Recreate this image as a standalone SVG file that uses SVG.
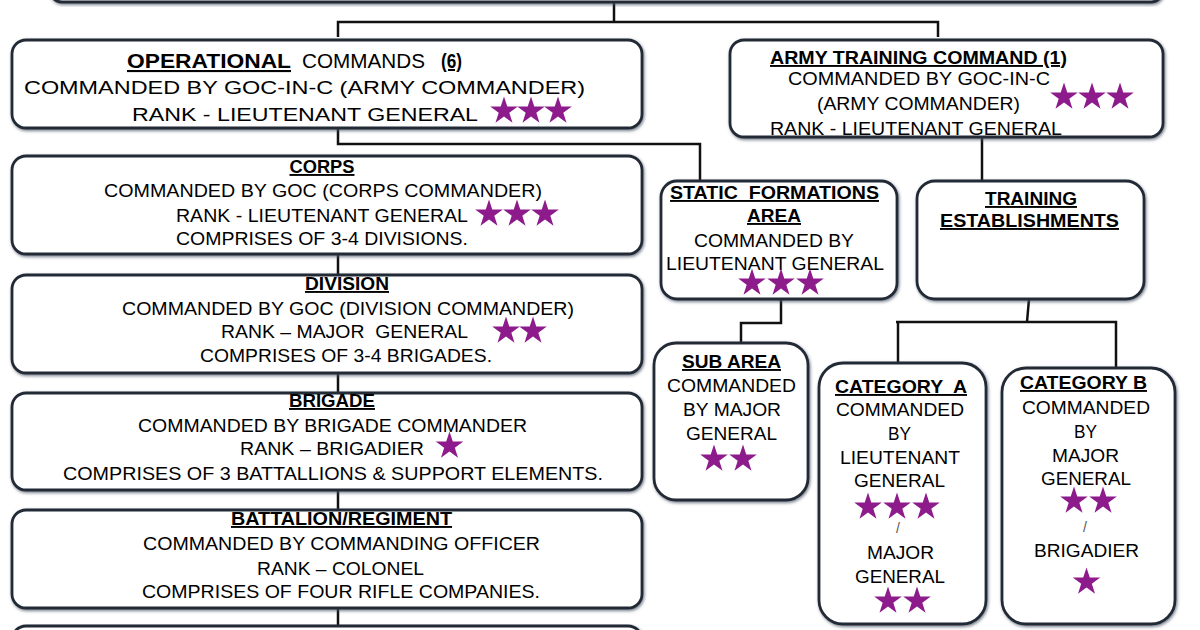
<svg xmlns="http://www.w3.org/2000/svg" xmlns:xlink="http://www.w3.org/1999/xlink" width="1200" height="630" viewBox="0 0 1200 630">
<style>
.box{fill:#fff;stroke:#232a36;stroke-width:2.8;filter:url(#sh)}
.t{font-family:"Liberation Sans",Arial,sans-serif;fill:#000;text-anchor:middle;font-size:19px}
.s{text-anchor:start}
.h{font-weight:bold;text-decoration:underline}
.sl{font-size:14px;fill:#555}
.conn path{stroke:#111;stroke-width:2.5;fill:none}
.star{fill:#8e1b8c}
</style>
<defs>
<filter id="sh" x="-5%" y="-5%" width="112%" height="115%">
<feDropShadow dx="1" dy="1.5" stdDeviation="1.6" flood-color="#4a5566" flood-opacity="0.75"/>
</filter>
<path id="st" d="M0,-14.5 L3.28,-4.52 L13.79,-4.48 L5.31,1.73 L8.52,11.73 L0,5.6 L-8.52,11.73 L-5.31,1.73 L-13.79,-4.48 L-3.28,-4.52 Z"/>
</defs>

<g class="conn">
<path d="M614,0 V22"/>
<path d="M338,37 V22 H938 V37"/>
<path d="M338,128 V144 H700 V181"/>
<path d="M982,137 V181"/>
<path d="M338,254 V275"/>
<path d="M338,373 V393"/>
<path d="M338,490 V510"/>
<path d="M338,608 V626"/>
<path d="M781,299 V323 H741 V343"/>
<path d="M1029,299 L1027,322"/>
<path d="M896,322 H1116 V368"/>
<path d="M898,322 V363"/>
</g>

<g id="top-node"><rect class="box" x="50" y="-40" width="1113" height="42" rx="12"/></g>

<g id="operational">
<rect class="box" x="12" y="40" width="630" height="88" rx="14"/>
<text class="t s" y="68"><tspan class="h" x="127" font-size="21" textLength="164" lengthAdjust="spacingAndGlyphs">OPERATIONAL</tspan><tspan x="302" font-size="20" textLength="123" lengthAdjust="spacingAndGlyphs">COMMANDS</tspan><tspan class="h" x="441" font-size="20" textLength="21" lengthAdjust="spacingAndGlyphs">(6)</tspan></text>
<text class="t" x="304.5" y="94" font-size="21" textLength="561" lengthAdjust="spacingAndGlyphs">COMMANDED BY GOC-IN-C (ARMY COMMANDER)</text>
<text class="t" x="305" y="121" font-size="20" textLength="346" lengthAdjust="spacingAndGlyphs">RANK - LIEUTENANT GENERAL</text>
<use class="star" href="#st" x="504" y="111"/><use class="star" href="#st" x="531" y="111"/><use class="star" href="#st" x="558" y="111"/>
</g>

<g id="army-training">
<rect class="box" x="730" y="40" width="433" height="97" rx="14"/>
<text class="t h" x="918.5" y="64" font-size="17" textLength="297" lengthAdjust="spacingAndGlyphs">ARMY TRAINING COMMAND (1)</text>
<text class="t" x="919" y="85" font-size="17.5" textLength="262" lengthAdjust="spacingAndGlyphs">COMMANDED BY GOC-IN-C</text>
<text class="t" x="918.5" y="110" font-size="17.5" textLength="203" lengthAdjust="spacingAndGlyphs">(ARMY COMMANDER)</text>
<text class="t" x="916" y="135" font-size="17.5" textLength="292" lengthAdjust="spacingAndGlyphs">RANK - LIEUTENANT GENERAL</text>
<use class="star" href="#st" x="1064" y="97"/><use class="star" href="#st" x="1092" y="97"/><use class="star" href="#st" x="1120" y="97"/>
</g>

<g id="corps">
<rect class="box" x="12" y="156" width="630" height="98" rx="14"/>
<text class="t h" x="322" y="173" font-size="16" textLength="65" lengthAdjust="spacingAndGlyphs">CORPS</text>
<text class="t" x="323" y="197" textLength="438" lengthAdjust="spacingAndGlyphs">COMMANDED BY GOC (CORPS COMMANDER)</text>
<text class="t" x="322" y="222" textLength="292" lengthAdjust="spacingAndGlyphs">RANK - LIEUTENANT GENERAL</text>
<text class="t" x="322" y="245" textLength="292" lengthAdjust="spacingAndGlyphs">COMPRISES OF 3-4 DIVISIONS.</text>
<use class="star" href="#st" x="489" y="214"/><use class="star" href="#st" x="517" y="214"/><use class="star" href="#st" x="545" y="214"/>
</g>

<g id="division">
<rect class="box" x="12" y="275" width="630" height="98" rx="14"/>
<text class="t h" x="347" y="290" font-size="16" textLength="84" lengthAdjust="spacingAndGlyphs">DIVISION</text>
<text class="t" x="348" y="315" textLength="452" lengthAdjust="spacingAndGlyphs">COMMANDED BY GOC (DIVISION COMMANDER)</text>
<text class="t" x="344.5" y="338" textLength="247" lengthAdjust="spacingAndGlyphs" style="white-space:pre">RANK – MAJOR  GENERAL</text>
<text class="t" x="346" y="362" textLength="292" lengthAdjust="spacingAndGlyphs">COMPRISES OF 3-4 BRIGADES.</text>
<use class="star" href="#st" x="506" y="331"/><use class="star" href="#st" x="533" y="331"/>
</g>

<g id="brigade">
<rect class="box" x="12" y="393" width="630" height="97" rx="14"/>
<text class="t h" x="332" y="407" font-size="16" textLength="86" lengthAdjust="spacingAndGlyphs">BRIGADE</text>
<text class="t" x="332.5" y="432" textLength="389" lengthAdjust="spacingAndGlyphs">COMMANDED BY BRIGADE COMMANDER</text>
<text class="t" x="332" y="455" textLength="184" lengthAdjust="spacingAndGlyphs">RANK – BRIGADIER</text>
<text class="t" x="333" y="480" textLength="540" lengthAdjust="spacingAndGlyphs">COMPRISES OF 3 BATTALLIONS &amp; SUPPORT ELEMENTS.</text>
<use class="star" href="#st" x="449.5" y="446"/>
</g>

<g id="battalion">
<rect class="box" x="12" y="510" width="630" height="98" rx="14"/>
<text class="t h" x="341.5" y="525" font-size="16" textLength="221" lengthAdjust="spacingAndGlyphs">BATTALION/REGIMENT</text>
<text class="t" x="341.5" y="550" textLength="397" lengthAdjust="spacingAndGlyphs">COMMANDED BY COMMANDING OFFICER</text>
<text class="t" x="340.5" y="575" textLength="167" lengthAdjust="spacingAndGlyphs">RANK – COLONEL</text>
<text class="t" x="341" y="598" textLength="398" lengthAdjust="spacingAndGlyphs">COMPRISES OF FOUR RIFLE COMPANIES.</text>
</g>

<g id="bottom-node"><rect class="box" x="12" y="626" width="630" height="40" rx="14"/></g>

<g id="static-formations">
<rect class="box" x="661" y="181" width="236" height="118" rx="16"/>
<text class="t h" x="774.5" y="199" font-size="17" textLength="209" lengthAdjust="spacingAndGlyphs" style="white-space:pre">STATIC  FORMATIONS</text>
<text class="t h" x="774" y="222" font-size="17" textLength="54" lengthAdjust="spacingAndGlyphs">AREA</text>
<text class="t" x="774" y="247" textLength="160" lengthAdjust="spacingAndGlyphs">COMMANDED BY</text>
<text class="t" x="775" y="270" textLength="218" lengthAdjust="spacingAndGlyphs">LIEUTENANT GENERAL</text>
<use class="star" href="#st" x="752" y="283"/><use class="star" href="#st" x="781" y="283"/><use class="star" href="#st" x="810" y="283"/>
</g>

<g id="training-establishments">
<rect class="box" x="917" y="181" width="227" height="118" rx="18"/>
<text class="t h" x="1031" y="205" font-size="18" textLength="92" lengthAdjust="spacingAndGlyphs">TRAINING</text>
<text class="t h" x="1029.5" y="227" font-size="18" textLength="179" lengthAdjust="spacingAndGlyphs">ESTABLISHMENTS</text>
</g>

<g id="sub-area">
<rect class="box" x="654" y="343" width="154" height="157" rx="22"/>
<text class="t h" x="731.5" y="368" font-size="18" textLength="99" lengthAdjust="spacingAndGlyphs">SUB AREA</text>
<text class="t" x="731.5" y="392" textLength="129" lengthAdjust="spacingAndGlyphs">COMMANDED</text>
<text class="t" x="732" y="416" textLength="98" lengthAdjust="spacingAndGlyphs">BY MAJOR</text>
<text class="t" x="731.5" y="440" textLength="91" lengthAdjust="spacingAndGlyphs">GENERAL</text>
<use class="star" href="#st" x="714" y="459"/><use class="star" href="#st" x="743" y="459"/>
</g>

<g id="category-a">
<rect class="box" x="819" y="363" width="167" height="261" rx="24"/>
<text class="t h" x="901" y="393" font-size="18" textLength="132" lengthAdjust="spacingAndGlyphs" style="white-space:pre">CATEGORY  A</text>
<text class="t" x="900" y="416" textLength="128" lengthAdjust="spacingAndGlyphs">COMMANDED</text>
<text class="t" x="899.5" y="440" textLength="23" lengthAdjust="spacingAndGlyphs">BY</text>
<text class="t" x="900" y="464" textLength="120" lengthAdjust="spacingAndGlyphs">LIEUTENANT</text>
<text class="t" x="899.5" y="487" textLength="91" lengthAdjust="spacingAndGlyphs">GENERAL</text>
<use class="star" href="#st" x="868" y="507"/><use class="star" href="#st" x="897" y="507"/><use class="star" href="#st" x="926" y="507"/>
<text class="t sl" x="898" y="533">/</text>
<text class="t" x="900.5" y="559" textLength="67" lengthAdjust="spacingAndGlyphs">MAJOR</text>
<text class="t" x="900" y="583" textLength="90" lengthAdjust="spacingAndGlyphs">GENERAL</text>
<use class="star" href="#st" x="888" y="601"/><use class="star" href="#st" x="917" y="601"/>
</g>

<g id="category-b">
<rect class="box" x="1002" y="368" width="173" height="256" rx="24"/>
<text class="t h" x="1083.5" y="389" font-size="18" textLength="127" lengthAdjust="spacingAndGlyphs">CATEGORY B</text>
<text class="t" x="1086" y="414" textLength="128" lengthAdjust="spacingAndGlyphs">COMMANDED</text>
<text class="t" x="1085.5" y="438" textLength="23" lengthAdjust="spacingAndGlyphs">BY</text>
<text class="t" x="1085.5" y="462" textLength="67" lengthAdjust="spacingAndGlyphs">MAJOR</text>
<text class="t" x="1086" y="485" textLength="90" lengthAdjust="spacingAndGlyphs">GENERAL</text>
<use class="star" href="#st" x="1074" y="501"/><use class="star" href="#st" x="1103" y="501"/>
<text class="t sl" x="1085" y="532">/</text>
<text class="t" x="1086.5" y="557" textLength="105" lengthAdjust="spacingAndGlyphs">BRIGADIER</text>
<use class="star" href="#st" x="1086.5" y="582"/>
</g>
</svg>
